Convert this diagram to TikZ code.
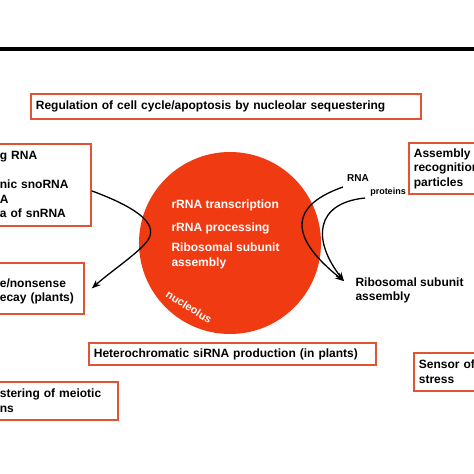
\documentclass[tikz,border=0pt]{standalone}
\usepackage{fontspec}
\setmainfont{Liberation Sans}
\usetikzlibrary{arrows.meta,positioning}
\definecolor{boxred}{RGB}{222,84,52}
\definecolor{nucred}{RGB}{240,58,18}

\begin{document}
\begin{tikzpicture}[x=1pt,y=1pt,
    every node/.style={font=\bfseries\fontsize{12}{14.5}\selectfont},
    infobox/.style={draw=boxred, line width=1.8pt, align=left, inner sep=5pt,
      anchor=north west},
    flow/.style={line width=1.3pt, -{Stealth[length=9pt,width=7pt]}},
    small/.style={font=\bfseries\fontsize{#1}{#1}\selectfont},
  ]
  \useasboundingbox (0,0) rectangle (474,-474);
  \clip (0,0) rectangle (474,-474);

  % rule at the top
  \draw[line width=4pt] (0,-49) -- (474,-49);

  % boxes
  \node[infobox, text width=380pt, minimum height=25pt] (regbox) at (30,-93)
    {Regulation of cell cycle/apoptosis by nucleolar sequestering};
  \node[infobox, text width=86pt, minimum height=82pt] (snobox) at (-6,-143)
    {g RNA\\ \mbox{}\\ nic snoRNA\\ A\\ a of snRNA};
  \node[infobox, text width=79pt, minimum height=51pt] (nmdbox) at (-6,-262)
    {\mbox{}\\ e/nonsense\\ ecay (plants)};
  \node[infobox, text width=113pt, minimum height=38pt] (meibox) at (-6,-381)
    {stering of meiotic\\ ns};
  \node[infobox, text width=277pt, minimum height=22pt] (hetbox) at (88,-342)
    {Heterochromatic siRNA production (in plants)};
  \node[infobox, text width=80pt, minimum height=51pt] (srpbox) at (408,-142)
    {Assembly\\ recognition\\ particles};
  \node[infobox, text width=80pt, minimum height=38pt] (strbox) at (413,-352)
    {Sensor of\\ stress};

  % nucleolus
  \node[circle, fill=nucred, minimum size=182pt] (nucleolus) at (230,-243) {};
  \node[text=white, align=left, anchor=west] (nucjobs) at (168,-234.5)
    {rRNA transcription\\[8pt] rRNA processing\\[6pt] Ribosomal subunit\\ assembly};
  \node[text=white, small=11, rotate=-32, inner sep=0pt] (nuclabel) at (189,-307) {nucleolus};

  % labels on the right
  \node[small=10] (rna) at (358,-178) {RNA};
  \node[small=9] (prot) at (388,-192) {proteins};
  \node[align=left, anchor=west] (ribo) at (352,-290.5) {Ribosomal subunit\\ assembly};

  % connectors
  \draw[flow] ([yshift=-6pt]snobox.east) .. controls (130,-205) and (160,-222) .. (148,-240)
    .. controls (140,-252) and (110,-272) .. ([xshift=7pt]nmdbox.east);
  \draw[flow] ([shift={(-15pt,-9pt)}]rna.center) .. controls (283,-208) and (295,-242)
    .. ([shift={(-8pt,-7pt)}]ribo.north west);
  \draw[flow] ([shift={(-23pt,-6pt)}]prot.center) .. controls (315,-203) and (312,-240)
    .. ([shift={(-8pt,-7pt)}]ribo.north west);
\end{tikzpicture}
\end{document}
